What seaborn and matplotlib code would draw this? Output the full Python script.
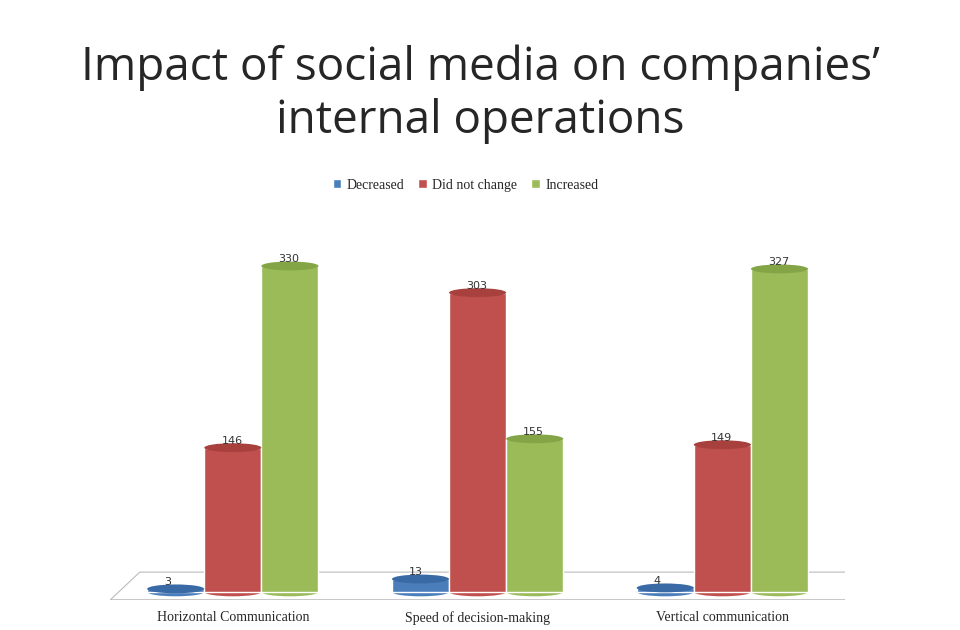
import matplotlib
matplotlib.use("Agg")
import matplotlib.pyplot as plt
import seaborn as sns
import pandas as pd
from matplotlib.patches import Ellipse, Polygon

categories = ["Horizontal Communication", "Speed of decision-making", "Vertical communication"]
series = ["Decreased", "Did not change", "Increased"]
decreased = [3, 13, 4]
no_change = [146, 303, 149]
increased = [330, 155, 327]
colors = ["#4a7ebb", "#c0504d", "#9bbb59"]
tops = ["#3a6aa5", "#a8403d", "#84a545"]

rows = []
for s, vals in zip(series, [decreased, no_change, increased]):
    for c, v in zip(categories, vals):
        rows.append({"cat": c, "series": s, "val": v})
df = pd.DataFrame(rows)

sns.set_style("white")
fig = plt.figure(figsize=(9.6, 6.3), dpi=100)
ax = fig.add_axes([0.115, 0.048, 0.765, 0.58])
sns.barplot(data=df, x="cat", y="val", hue="series", palette=colors, width=0.7,
            ax=ax, saturation=1, legend=False)
ax.set_ylim(-8, 362)
ax.set_xlim(-0.5, 2.5)

# floor
floor = Polygon([(-0.5, -8), (2.5, -8), (2.62, 20), (-0.38, 20)], closed=True,
                facecolor="white", edgecolor="#bbbbbb", lw=0.8, zorder=0)
ax.add_patch(floor)

for i, container in enumerate(ax.containers):
    for bar, val in zip(container, [decreased, no_change, increased][i]):
        x = bar.get_x(); w = bar.get_width(); h = bar.get_height()
        bar.set_zorder(2)
        ax.add_patch(Ellipse((x + w / 2, h), w, 9, facecolor=tops[i], edgecolor="none", zorder=3))
        ax.add_patch(Ellipse((x + w / 2, 0), w, 9, facecolor=colors[i], edgecolor="none", zorder=1.9))
        ax.text(x + w * 0.3, h + 4, str(val), fontsize=8, color="#333333", zorder=4,
                family="DejaVu Sans")

for s in ax.spines.values():
    s.set_visible(False)
ax.set_yticks([])
ax.set_xlabel(""); ax.set_ylabel("")
ax.tick_params(axis="x", length=0, pad=8)
for t in ax.get_xticklabels():
    t.set_family("Liberation Serif"); t.set_fontsize(10)

fig.text(0.5, 0.93, "Impact of social media on companies\u2019\ninternal operations",
         ha="center", va="top", fontsize=33, family="Open Sans", linespacing=1.2)

from matplotlib.patches import Patch
handles = [Patch(facecolor=c) for c in colors]
fig.legend(handles, series, loc="center", bbox_to_anchor=(0.485, 0.706), ncol=3,
           frameon=False, prop={"family": "Liberation Serif", "size": 10},
           handlelength=0.6, handleheight=0.6, columnspacing=1.0, handletextpad=0.4)
fig.savefig("out.png", dpi=100)
